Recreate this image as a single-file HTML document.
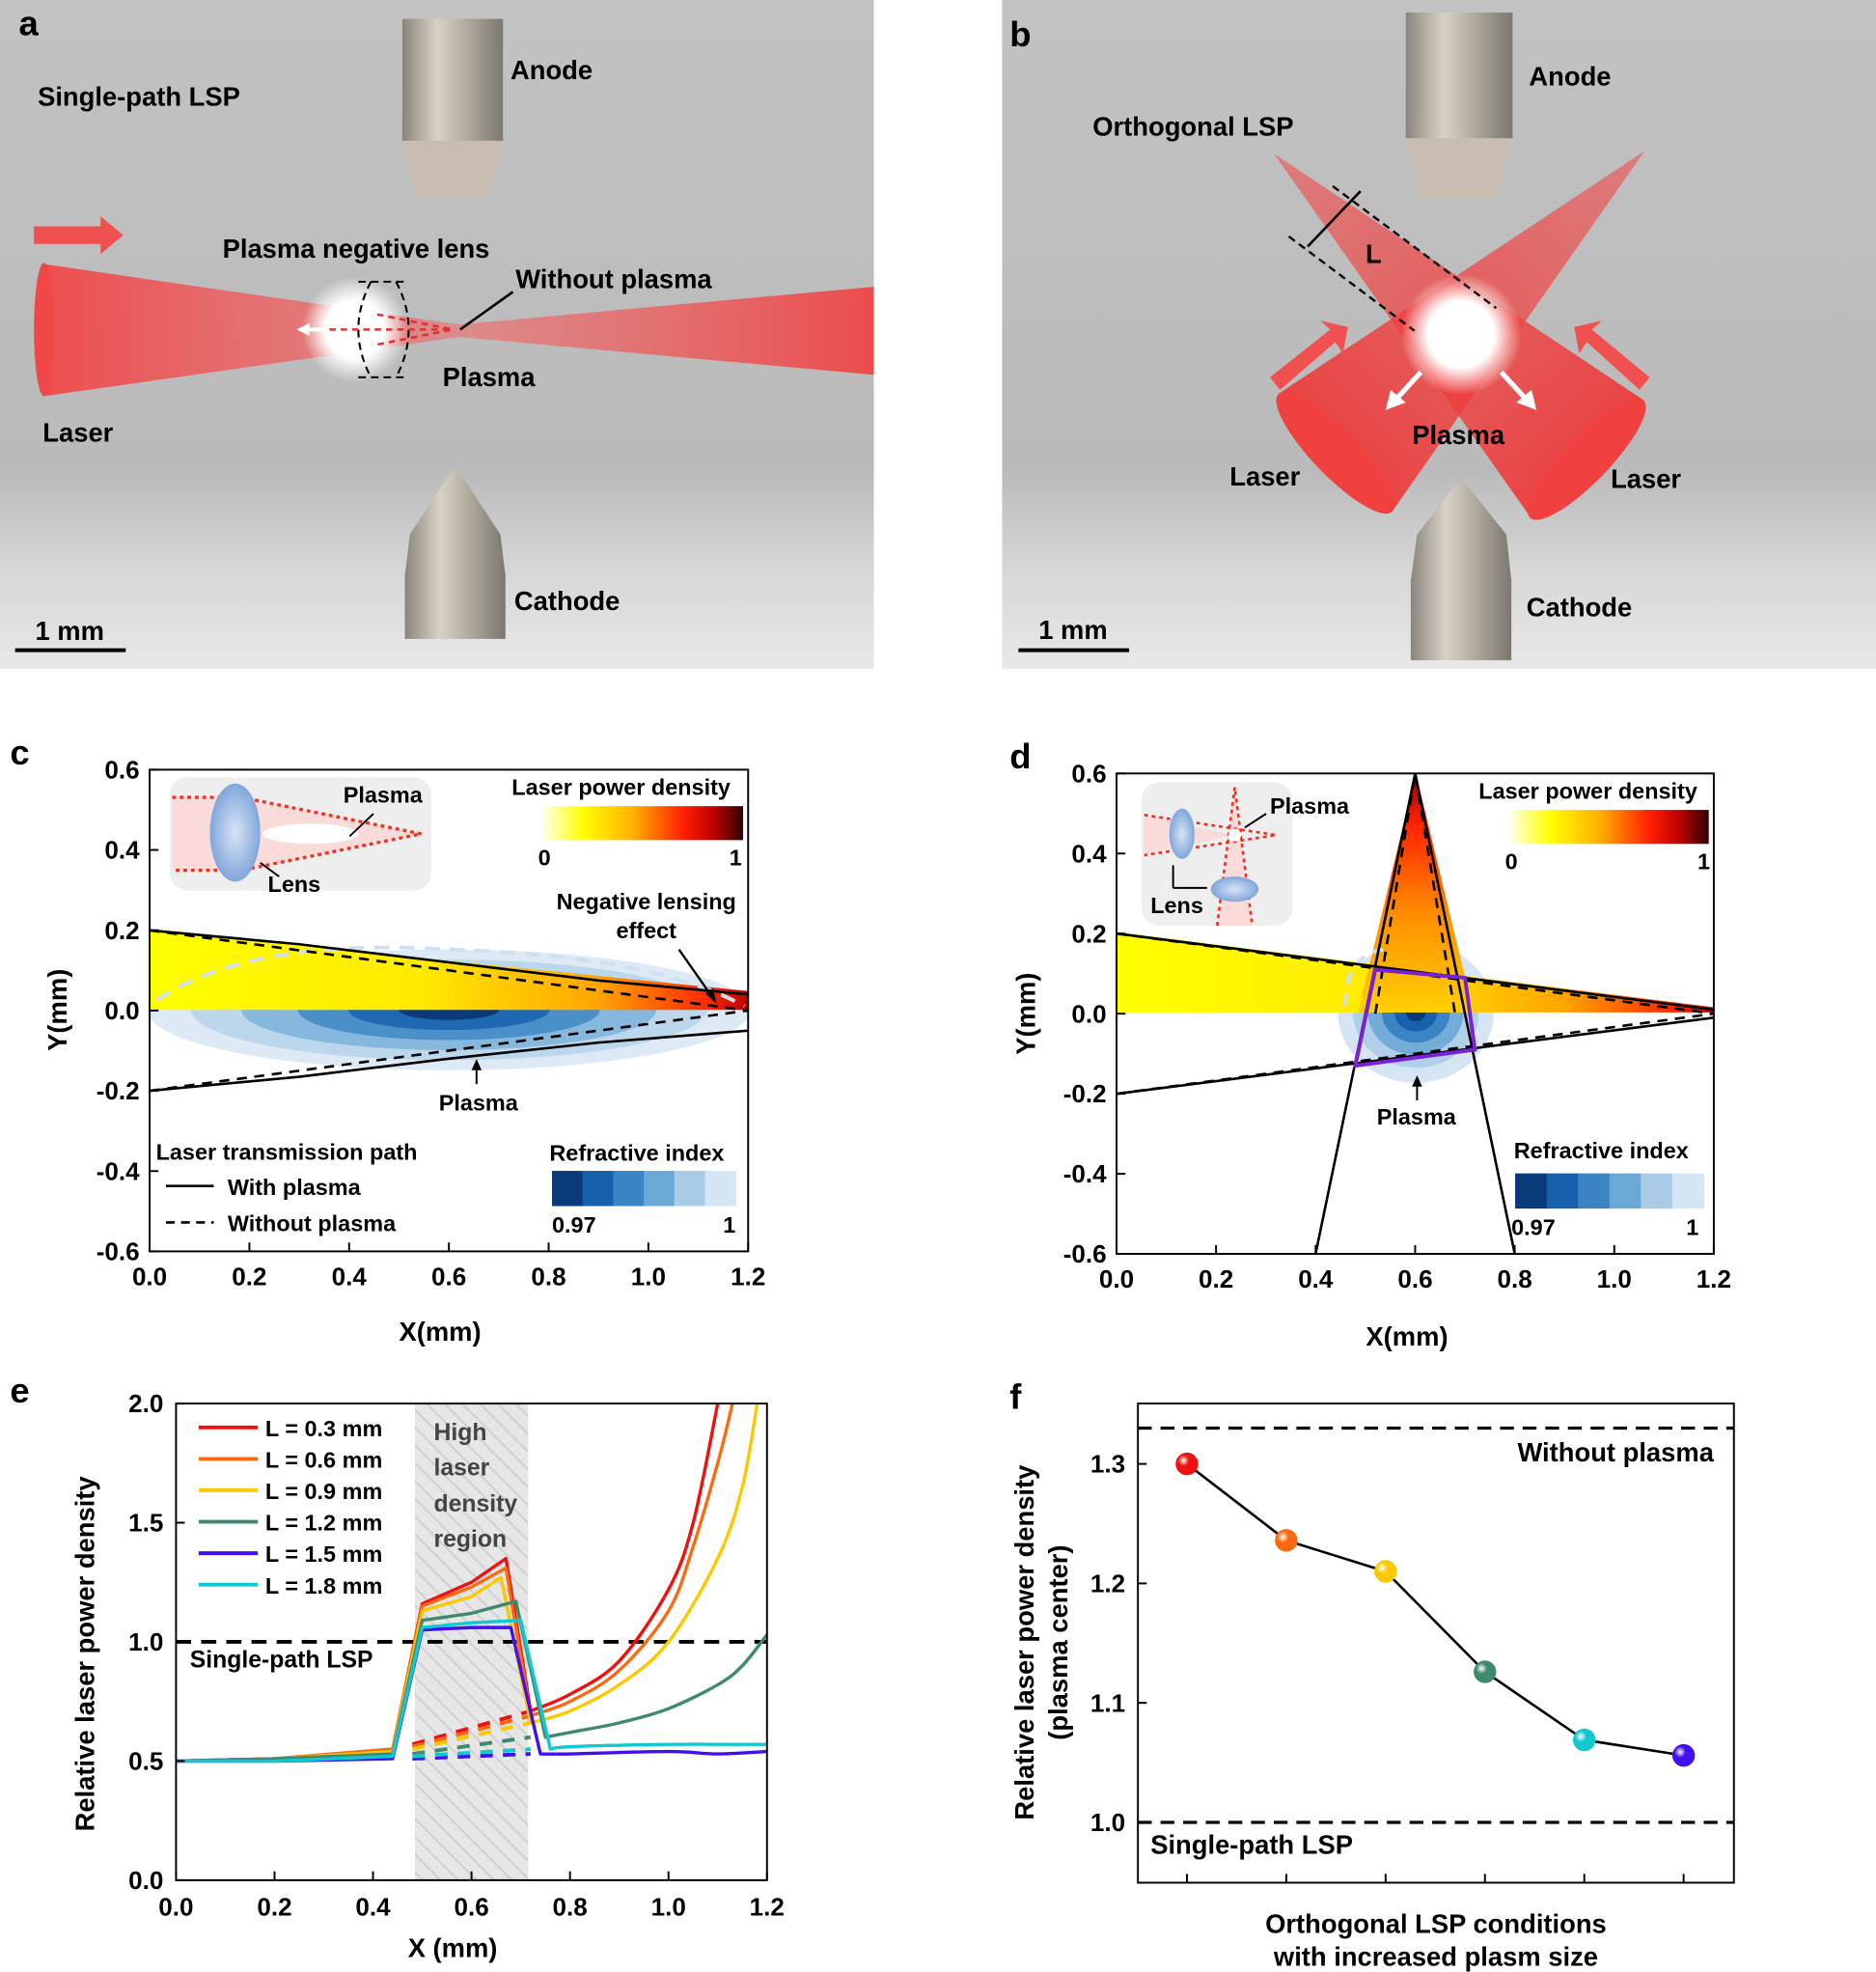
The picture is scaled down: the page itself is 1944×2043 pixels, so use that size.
<!DOCTYPE html>
<html><head><meta charset="utf-8"><style>
html,body{margin:0;padding:0;background:#fff}
svg{display:block}
text{font-family:"Liberation Sans",Arial,sans-serif;font-weight:bold;fill:#000}
</style></head><body>
<svg id="fig" width="1944" height="2043" viewBox="0 0 1492 1568" preserveAspectRatio="none" xmlns="http://www.w3.org/2000/svg">
<defs>
<linearGradient id="bg" x1="0" y1="0" x2="0" y2="1">
<stop offset="0" stop-color="#c2c2c2"/><stop offset="0.7" stop-color="#bababa"/><stop offset="0.85" stop-color="#d6d6d6"/><stop offset="1" stop-color="#e8e8e8"/></linearGradient>
<linearGradient id="metal" x1="0" y1="0" x2="1" y2="0">
<stop offset="0" stop-color="#8a857c"/><stop offset="0.35" stop-color="#d8d2c6"/><stop offset="0.6" stop-color="#b5afa4"/><stop offset="1" stop-color="#7c776f"/></linearGradient>
<linearGradient id="beamA" x1="0" y1="0" x2="1" y2="0">
<stop offset="0" stop-color="#f04848" stop-opacity="0.95"/><stop offset="0.5" stop-color="#f06a6a" stop-opacity="0.6"/><stop offset="1" stop-color="#f04040" stop-opacity="0.9"/></linearGradient>
<linearGradient id="beamB" x1="0" y1="0" x2="1" y2="1">
<stop offset="0" stop-color="#f05050" stop-opacity="0.6"/><stop offset="1" stop-color="#f03030" stop-opacity="0.95"/></linearGradient>
<linearGradient id="beamC" x1="1" y1="0" x2="0" y2="1">
<stop offset="0" stop-color="#f05050" stop-opacity="0.6"/><stop offset="1" stop-color="#f03030" stop-opacity="0.95"/></linearGradient>
<radialGradient id="glow"><stop offset="0.55" stop-color="#fff"/><stop offset="1" stop-color="#fff" stop-opacity="0"/></radialGradient>
<linearGradient id="heatC" x1="0" y1="0" x2="1" y2="0">
<stop offset="0" stop-color="#ffff00"/><stop offset="0.45" stop-color="#ffea00"/><stop offset="0.75" stop-color="#ffa500"/><stop offset="0.93" stop-color="#ff2a00"/><stop offset="1" stop-color="#c00000"/></linearGradient>
<linearGradient id="heatV" x1="0" y1="1" x2="0" y2="0">
<stop offset="0" stop-color="#ffd000"/><stop offset="0.4" stop-color="#ff9000"/><stop offset="0.8" stop-color="#ff2000"/><stop offset="1" stop-color="#900000"/></linearGradient>
<linearGradient id="cbar1" x1="0" y1="0" x2="1" y2="0">
<stop offset="0" stop-color="#ffffe8"/><stop offset="0.2" stop-color="#ffff00"/><stop offset="0.45" stop-color="#ffb000"/><stop offset="0.7" stop-color="#ff2000"/><stop offset="0.85" stop-color="#c00000"/><stop offset="1" stop-color="#300000"/></linearGradient>
<radialGradient id="lens" cx="0.5" cy="0.5" r="0.6"><stop offset="0" stop-color="#d8e4f5"/><stop offset="1" stop-color="#6f9ad6"/></radialGradient>
<pattern id="hatch" width="10" height="10" patternUnits="userSpaceOnUse" patternTransform="rotate(-45)">
<rect width="10" height="10" fill="#e6e6e6"/><line x1="0" y1="0" x2="0" y2="10" stroke="#d0d0d0" stroke-width="3"/></pattern>
<clipPath id="clipE"><rect x="140" y="1116" width="470" height="379"/></clipPath>
<clipPath id="clipC"><rect x="119" y="612" width="476" height="383"/></clipPath>
<clipPath id="clipD"><rect x="888" y="615" width="475" height="382"/></clipPath>
</defs>

<!-- PANEL A -->
<g>
<rect x="0" y="0" width="695" height="532" fill="url(#bg)"/>
<rect x="320" y="15" width="80" height="97" fill="url(#metal)"/>
<polygon points="320,112 400,112 388,156 332,156" fill="#c9bdb2"/>
<polygon points="326,425 362,370 398,425 402,458 322,458" fill="url(#metal)"/>
<rect x="322" y="456" width="80" height="52" fill="url(#metal)"/>
<polygon points="35,210 365,258 695,228 695,298 365,268 35,315" fill="url(#beamA)"/>
<ellipse cx="35" cy="262" rx="8" ry="53" fill="#f04848"/>
<circle cx="282" cy="262" r="42" fill="url(#glow)"/>
<polygon points="27,180 80,180 80,172 98,187 80,202 80,194 27,194" fill="#f05050"/>
<path d="M285,224 h40 M285,300 h40 M295,224 q-20,38 0,76 M315,224 q20,38 0,76" stroke="#000" stroke-width="1.6" stroke-dasharray="6,4" fill="none"/>
<path d="M262,262 L360,262 M300,250 L360,262 L300,274" stroke="#e03030" stroke-width="2" stroke-dasharray="5,4" fill="none"/>
<line x1="408" y1="232" x2="366" y2="262" stroke="#000" stroke-width="2"/>
<line x1="262" y1="262" x2="238" y2="262" stroke="#fff" stroke-width="3"/><polygon points="236,262 246,257 246,267" fill="#fff"/>
<text x="15" y="28" font-size="28">a</text>
<text x="30" y="84" font-size="21">Single-path LSP</text>
<text x="406" y="63" font-size="21">Anode</text>
<text x="177" y="205" font-size="21">Plasma negative lens</text>
<text x="410" y="229" font-size="21">Without plasma</text>
<text x="352" y="307" font-size="21">Plasma</text>
<text x="34" y="351" font-size="21">Laser</text>
<text x="409" y="485" font-size="21">Cathode</text>
<line x1="12" y1="517" x2="100" y2="517" stroke="#000" stroke-width="3"/>
<text x="28" y="509" font-size="21">1 mm</text>
</g>

<!-- PANEL B -->
<g>
<rect x="797" y="0" width="695" height="532" fill="url(#bg)"/>
<rect x="1118" y="10" width="85" height="100" fill="url(#metal)"/>
<polygon points="1118,110 1203,110 1190,157 1131,157" fill="#c9bdb2"/>
<polygon points="1013,122 1307,318 1217,411" fill="url(#beamB)"/>
<polygon points="1308,120 1107,407 1017,313" fill="url(#beamC)"/>
<ellipse cx="1262" cy="365" rx="18" ry="65" transform="rotate(44 1262 365)" fill="#f04040"/>
<ellipse cx="1062" cy="360" rx="18" ry="65" transform="rotate(-44 1062 360)" fill="#f04040"/>
<polygon points="1127,425 1162,380 1198,425 1202,462 1122,462" fill="url(#metal)"/>
<rect x="1122" y="460" width="80" height="65" fill="url(#metal)"/>
<circle cx="1162" cy="266" r="48" fill="url(#glow)"/>
<path d="M1060,148 L1190,245 M1025,188 L1125,263" stroke="#000" stroke-width="1.8" stroke-dasharray="6,4" fill="none"/>
<line x1="1082" y1="152" x2="1040" y2="196" stroke="#000" stroke-width="2"/>
<polygon points="1010,300 1058,262 1050,255 1072,260 1068,281 1062,272 1018,310" fill="#f05050"/>
<polygon points="1312,300 1266,262 1274,255 1252,260 1256,281 1262,272 1304,310" fill="#f05050"/>
<path d="M1130,296 L1108,320 M1194,296 L1216,320" stroke="#fff" stroke-width="4"/>
<polygon points="1102,326 1106,310 1118,320" fill="#fff"/><polygon points="1222,326 1218,310 1206,320" fill="#fff"/>
<text x="803" y="37" font-size="28">b</text>
<text x="869" y="108" font-size="21">Orthogonal LSP</text>
<text x="1216" y="68" font-size="21">Anode</text>
<text x="1086" y="209" font-size="21">L</text>
<text x="1123" y="353" font-size="21">Plasma</text>
<text x="978" y="386" font-size="21">Laser</text>
<text x="1281" y="388" font-size="21">Laser</text>
<text x="1214" y="490" font-size="21">Cathode</text>
<line x1="810" y1="517" x2="898" y2="517" stroke="#000" stroke-width="3"/>
<text x="826" y="508" font-size="21">1 mm</text>
</g>

<!-- PANEL C -->
<g>
<text x="8" y="608" font-size="28">c</text>
<g clip-path="url(#clipC)">
<ellipse cx="357" cy="803" rx="240" ry="48" fill="#dde9f5"/>
<ellipse cx="357" cy="803" rx="205" ry="40" fill="#bcd6ec"/>
<ellipse cx="357" cy="803" rx="165" ry="32" fill="#86b7dd"/>
<ellipse cx="357" cy="803" rx="120" ry="24" fill="#4b8fc9"/>
<ellipse cx="357" cy="803" rx="80" ry="16" fill="#1f69b2"/>
<ellipse cx="357" cy="803" rx="40" ry="8" fill="#0b3a78"/>
<polygon id="cWedge" points="119,740 595,788 595,803 119,803" fill="url(#heatC)"/>
<path d="M125,795 Q200,745 357,755 Q520,760 592,800" stroke="#cfe0f0" stroke-width="3" stroke-dasharray="12,8" fill="none"/>
<g id="cLines"></g>
</g>
<rect x="119" y="612" width="476" height="383" fill="none" stroke="#000" stroke-width="1.5"/>
<g id="cTicks"></g>
<rect x="135" y="618" width="208" height="90" rx="14" fill="#eeeeee"/>
<polygon points="137,634 192,634 335,663 192,692 137,692" fill="#fbdada"/>
<ellipse cx="247" cy="663" rx="38" ry="8" fill="#fff"/>
<path d="M137,634 H192 L335,663 L192,692 H137" stroke="#f03020" stroke-width="2.5" stroke-dasharray="3,3" fill="none"/>
<ellipse cx="187" cy="662" rx="20" ry="39" fill="url(#lens)"/>
<line x1="297" y1="647" x2="278" y2="665" stroke="#000" stroke-width="1.5"/>
<line x1="222" y1="697" x2="207" y2="686" stroke="#000" stroke-width="1.5"/>
<text x="273" y="638" font-size="18">Plasma</text>
<text x="213" y="709" font-size="18">Lens</text>
<text x="407" y="632" font-size="18">Laser power density</text>
<rect x="432" y="641" width="159" height="27" fill="url(#cbar1)"/>
<text x="428" y="688" font-size="18">0</text><text x="580" y="688" font-size="18">1</text>
<text x="514" y="723" font-size="18" text-anchor="middle">Negative lensing</text>
<text x="514" y="746" font-size="18" text-anchor="middle">effect</text>
<line x1="540" y1="755" x2="568" y2="795" stroke="#000" stroke-width="1.8"/>
<polygon points="570,798 561,790 567,786" fill="#000"/>
<line x1="379" y1="862" x2="379" y2="845" stroke="#000" stroke-width="1.5"/><polygon points="379,842 375,851 383,851" fill="#000"/>
<text x="349" y="883" font-size="18">Plasma</text>
<text x="124" y="922" font-size="18">Laser transmission path</text>
<line x1="132" y1="943" x2="170" y2="943" stroke="#000" stroke-width="2"/>
<text x="181" y="950" font-size="18">With plasma</text>
<line x1="132" y1="972" x2="170" y2="972" stroke="#000" stroke-width="2" stroke-dasharray="7,5"/>
<text x="181" y="979" font-size="18">Without plasma</text>
<text x="437" y="923" font-size="18">Refractive index</text>
<g id="cBar2"></g>
<text x="439" y="980" font-size="18">0.97</text><text x="575" y="980" font-size="18">1</text>
<text x="350" y="1066" font-size="21" text-anchor="middle">X(mm)</text>
<text transform="translate(53,803) rotate(-90)" font-size="21" text-anchor="middle">Y(mm)</text>
</g>

<!-- PANEL D -->
<g>
<text x="803" y="611" font-size="28">d</text>
<g clip-path="url(#clipD)">
<ellipse cx="1126" cy="805" rx="62" ry="56" fill="#d6e5f4"/>
<ellipse cx="1126" cy="805" rx="50" ry="44" fill="#b0cfe8"/>
<ellipse cx="1126" cy="805" rx="38" ry="34" fill="#74acd8"/>
<ellipse cx="1126" cy="805" rx="27" ry="24" fill="#3b83c3"/>
<ellipse cx="1126" cy="805" rx="17" ry="15" fill="#1660ac"/>
<ellipse cx="1126" cy="805" rx="8" ry="7" fill="#0b3a78"/>
<polygon points="888,741 1363,801 1363,805 888,805" fill="url(#heatC)"/>
<polygon points="1126,615 1172,805 1080,805" fill="url(#heatV)"/>
<path d="M1070,800 Q1070,760 1100,755" stroke="#cfe0f0" stroke-width="3" stroke-dasharray="10,7" fill="none"/>
<g id="dLines"></g>
</g>
<rect x="888" y="615" width="475" height="382" fill="none" stroke="#000" stroke-width="1.5"/>
<g id="dTicks"></g>
<rect x="908" y="622" width="120" height="114" rx="14" fill="#eeeeee"/>
<polygon points="910,648 980,664 910,680" fill="#fbdada"/><polygon points="968,736 982,626 996,736" fill="#fbdada"/>
<path d="M910,648 L1015,664 L910,680 M968,736 L982,626 L996,736" stroke="#f03020" stroke-width="2" stroke-dasharray="3,3" fill="none"/>
<circle cx="982" cy="664" r="5" fill="#fff"/>
<ellipse cx="940" cy="663" rx="10" ry="20" fill="url(#lens)"/>
<ellipse cx="982" cy="707" rx="19" ry="10" fill="url(#lens)"/>
<path d="M933,706 V688 M933,706 H960" stroke="#000" stroke-width="1.5"/>
<line x1="1007" y1="647" x2="990" y2="658" stroke="#000" stroke-width="1.5"/>
<text x="1010" y="647" font-size="18">Plasma</text>
<text x="915" y="726" font-size="18">Lens</text>
<text x="1176" y="635" font-size="18">Laser power density</text>
<rect x="1201" y="644" width="158" height="27" fill="url(#cbar1)"/>
<text x="1197" y="691" font-size="18">0</text><text x="1350" y="691" font-size="18">1</text>
<line x1="1127" y1="875" x2="1127" y2="858" stroke="#000" stroke-width="1.5"/><polygon points="1127,855 1123,864 1131,864" fill="#000"/>
<text x="1095" y="894" font-size="18">Plasma</text>
<text x="1204" y="921" font-size="18">Refractive index</text>
<g id="dBar2"></g>
<text x="1202" y="982" font-size="18">0.97</text><text x="1341" y="982" font-size="18">1</text>
<text x="1119" y="1070" font-size="21" text-anchor="middle">X(mm)</text>
<text transform="translate(823,806) rotate(-90)" font-size="21" text-anchor="middle">Y(mm)</text>
</g>

<!-- PANEL E -->
<g>
<text x="8" y="1115" font-size="28">e</text>
<g id="eShade"></g>
<g id="eLines" clip-path="url(#clipE)"></g>
<rect x="140" y="1116" width="470" height="379" fill="none" stroke="#000" stroke-width="1.5"/>
<g id="eTicks"></g>
<g id="eLegend"></g>
<text x="345" y="1145" font-size="19" style="fill:#444">High</text>
<text x="345" y="1173" font-size="19" style="fill:#444">laser</text>
<text x="345" y="1202" font-size="19" style="fill:#444">density</text>
<text x="345" y="1230" font-size="19" style="fill:#444">region</text>
<text x="151" y="1326" font-size="19">Single-path LSP</text>
<text x="360" y="1556" font-size="21" text-anchor="middle">X (mm)</text>
<text transform="translate(75,1315) rotate(-90)" font-size="21" text-anchor="middle">Relative laser power density</text>
</g>

<!-- PANEL F -->
<g>
<text x="803" y="1120" font-size="28">f</text>
<rect x="905" y="1116" width="474" height="381" fill="none" stroke="#000" stroke-width="1.5"/>
<g id="fChart"></g>
<text x="1363" y="1162" font-size="21" text-anchor="end">Without plasma</text>
<text x="915" y="1474" font-size="21">Single-path LSP</text>
<text x="1142" y="1537" font-size="21" text-anchor="middle">Orthogonal LSP conditions</text>
<text x="1142" y="1563" font-size="21" text-anchor="middle">with increased plasm size</text>
<text transform="translate(822,1306) rotate(-90)" font-size="21" text-anchor="middle">Relative laser power density</text>
<text transform="translate(849,1306) rotate(-90)" font-size="21" text-anchor="middle">(plasma center)</text>
</g>
</svg>
<script>
const NS='http://www.w3.org/2000/svg';
// ---- panel e data ----
const eXTicks=[0,0.2,0.4,0.6,0.8,1.0,1.2];
const eYTicks=[0,0.5,1.0,1.5,2.0];
const eNames=['L = 0.3 mm','L = 0.6 mm','L = 0.9 mm','L = 1.2 mm','L = 1.5 mm','L = 1.8 mm'];
const eColors=['#f01010','#fb6a10','#fcc800','#3f8a6c','#4010f0','#10c8d0'];
const eX03=[0,0.2,0.44,0.5,0.6,0.67,0.72,0.8,0.9,1.0,1.05,1.1];
const eY03=[0.5,0.51,0.55,1.16,1.25,1.35,0.71,0.78,0.92,1.22,1.5,2.0];
const eX06=[0,0.2,0.44,0.5,0.6,0.67,0.72,0.8,0.9,1.0,1.05,1.1,1.13];
const eY06=[0.5,0.51,0.55,1.15,1.23,1.31,0.69,0.75,0.88,1.13,1.4,1.75,2.0];
const eX09=[0,0.2,0.44,0.5,0.6,0.66,0.72,0.8,0.9,1.0,1.1,1.15,1.18];
const eY09=[0.5,0.51,0.54,1.13,1.19,1.27,0.66,0.71,0.82,1.0,1.35,1.65,2.0];
const eX12=[0,0.2,0.44,0.5,0.6,0.69,0.75,0.8,0.9,1.0,1.1,1.15,1.2];
const eY12=[0.5,0.51,0.53,1.09,1.12,1.17,0.6,0.62,0.66,0.72,0.82,0.9,1.03];
const eX15=[0,0.2,0.44,0.5,0.6,0.68,0.74,0.8,1.0,1.1,1.2];
const eY15=[0.5,0.5,0.51,1.05,1.06,1.06,0.53,0.53,0.54,0.53,0.54];
const eX18=[0,0.2,0.44,0.5,0.6,0.7,0.76,0.8,1.0,1.1,1.2];
const eY18=[0.5,0.5,0.52,1.06,1.08,1.09,0.55,0.56,0.57,0.57,0.57];
const eDashX=[0.48,0.72];
const eDashY0=[0.57,0.71];const eDashY1=[0.56,0.69];const eDashY2=[0.55,0.66];
const eDashY3=[0.53,0.6];const eDashY4=[0.51,0.53];const eDashY5=[0.52,0.55];
const eShadeRange=[0.485,0.715];
const eSingle=1.0;
// ---- panel f data ----
const fValues=[1.30,1.236,1.21,1.126,1.069,1.056];
const fColors=['#f01010','#fb6a10','#fcc800','#3f8a6c','#10c8d0','#4010f0'];
const fYTicks=[1.0,1.1,1.2,1.3];
const fWithout=1.33, fSingle=1.0;
// ---- panel c/d data ----
const cdXTicks=[0,0.2,0.4,0.6,0.8,1.0,1.2];
const cdYTicks=[0.6,0.4,0.2,0.0,-0.2,-0.4,-0.6];
const cWithX=[0,0.3,0.6,0.9,1.2], cWithUp=[0.2,0.165,0.12,0.075,0.04], cWithDn=[-0.2,-0.165,-0.12,-0.08,-0.05];
const cNoX=[0,1.2], cNoUp=[0.2,0], cNoDn=[-0.2,0];
const dWithX=[0,1.2], dWithUp=[0.2,0.01], dWithDn=[-0.2,-0.01];
const dConeX=[0.4,0.6,0.8], dConeY=[-0.6,0.6,-0.6];
const dQuadX=[0.52,0.7,0.72,0.48], dQuadY=[0.11,0.09,-0.09,-0.13];
const refShades=['#0b3a78','#1660ac','#3b83c3','#6aa8d6','#a9cbe6','#d6e5f4'];

function el(tag,attrs,parent){const e=document.createElementNS(NS,tag);for(const k in attrs)e.setAttribute(k,attrs[k]);parent.appendChild(e);return e;}
function txt(s,attrs,parent){const e=el('text',attrs,parent);e.textContent=s;return e;}
function poly(xs,ys,fx,fy){return xs.map((x,i)=>fx(x).toFixed(1)+','+fy(ys[i]).toFixed(1)).join(' ');}
function smoothPath(pts){ // catmull-rom
  let d='M'+pts[0][0].toFixed(1)+','+pts[0][1].toFixed(1);
  for(let i=0;i<pts.length-1;i++){const p0=pts[Math.max(0,i-1)],p1=pts[i],p2=pts[i+1],p3=pts[Math.min(pts.length-1,i+2)];
    const c1=[p1[0]+(p2[0]-p0[0])/6,p1[1]+(p2[1]-p0[1])/6],c2=[p2[0]-(p3[0]-p1[0])/6,p2[1]-(p3[1]-p1[1])/6];
    d+=' C'+c1.map(v=>v.toFixed(1)).join(',')+' '+c2.map(v=>v.toFixed(1)).join(',')+' '+p2[0].toFixed(1)+','+p2[1].toFixed(1);}
  return d;}

// ---- E ----
const ex=v=>140+v/1.2*470, ey=v=>1495-v*189.5;
const gS=document.getElementById('eShade');
const sh=el('rect',{x:ex(eShadeRange[0]),y:1116,width:ex(eShadeRange[1])-ex(eShadeRange[0]),height:379,fill:'url(#hatch)'},gS);


const gE=document.getElementById('eLines');
const sl=el('line',{x1:140,x2:610,y1:ey(eSingle),y2:ey(eSingle),stroke:'#000','stroke-width':3,'stroke-dasharray':'12,8'},gE);


const eXs=[eX03,eX06,eX09,eX12,eX15,eX18], eYs=[eY03,eY06,eY09,eY12,eY15,eY18];
const eDs=[eDashY0,eDashY1,eDashY2,eDashY3,eDashY4,eDashY5];
eDs.forEach((d,i)=>{const p=el('polyline',{points:poly(eDashX,d,ex,ey),fill:'none',stroke:eColors[i],'stroke-width':3,'stroke-dasharray':'10,8'},gE);

});
eXs.forEach((xs,i)=>{const ys=eYs[i];
const pts=xs.map((x,k)=>[ex(x),ey(ys[k])]);
const head=pts.slice(0,7), tail=pts.slice(6);
const d='M'+head.map(p=>p[0].toFixed(1)+','+p[1].toFixed(1)).join(' L')+' '+smoothPath(tail).replace(/^M[^ ]+/,'');
const p=el('path',{d:d,fill:'none',stroke:eColors[i],'stroke-width':2.6,'stroke-linejoin':'round'},gE);

});
const gET=document.getElementById('eTicks');
eXTicks.forEach(v=>{el('line',{x1:ex(v),x2:ex(v),y1:1495,y2:1488,stroke:'#000','stroke-width':1.5},gET);
const t=txt(v.toFixed(1),{x:ex(v),y:1523,'font-size':20,'text-anchor':'middle'},gET);

});
eYTicks.forEach(v=>{el('line',{x1:140,x2:147,y1:ey(v),y2:ey(v),stroke:'#000','stroke-width':1.5},gET);
const t=txt(v.toFixed(1),{x:130,y:ey(v)+7,'font-size':20,'text-anchor':'end'},gET);

});
const gL=document.getElementById('eLegend');
eNames.forEach((n,i)=>{const y=1135+i*25;
const ln=el('line',{x1:158,x2:205,y1:y,y2:y,stroke:eColors[i],'stroke-width':3},gL);


const t=txt(n,{x:211,y:y+7,'font-size':18},gL);

});

// ---- F ----
const fx=i=>944+i*79, fy=v=>1164-(v-1.3)*950;
const gF=document.getElementById('fChart');
[fWithout,fSingle].forEach((v,k)=>{const l=el('line',{x1:905,x2:1379,y1:fy(v),y2:fy(v),stroke:'#000','stroke-width':2.5,'stroke-dasharray':'11,7'},gF);

});
fYTicks.forEach(v=>{el('line',{x1:905,x2:912,y1:fy(v),y2:fy(v),stroke:'#000','stroke-width':1.5},gF);
const t=txt(v.toFixed(1),{x:895,y:fy(v)+7,'font-size':20,'text-anchor':'end'},gF);

});
fValues.forEach((v,i)=>{el('line',{x1:fx(i),x2:fx(i),y1:1497,y2:1490,stroke:'#000','stroke-width':1.5},gF);});
const fl=el('polyline',{points:fValues.map((v,i)=>fx(i)+','+fy(v)).join(' '),fill:'none',stroke:'#000','stroke-width':2},gF);


const defs=document.querySelector('defs');
fValues.forEach((v,i)=>{const g=el('radialGradient',{id:'ball'+i,cx:'0.35',cy:'0.35',r:'0.7'},defs);
el('stop',{offset:'0','stop-color':'#fff'},g);el('stop',{offset:'0.35','stop-color':fColors[i]},g);el('stop',{offset:'1','stop-color':fColors[i]},g);
const c=el('circle',{cx:fx(i),cy:fy(v),r:9,fill:'url(#ball'+i+')'},gF);

});

// ---- C / D ----
function axesCD(gid,x0,y0,w,h){const g=document.getElementById(gid);
const X=v=>x0+v/1.2*w, Y=v=>y0+h/2-v/0.6*(h/2);
cdXTicks.forEach(v=>{el('line',{x1:X(v),x2:X(v),y1:y0+h,y2:y0+h-7,stroke:'#000','stroke-width':1.5},g);
const t=txt(v.toFixed(1),{x:X(v),y:y0+h+27,'font-size':20,'text-anchor':'middle'},g);

});
cdYTicks.forEach(v=>{el('line',{x1:x0,x2:x0+7,y1:Y(v),y2:Y(v),stroke:'#000','stroke-width':1.5},g);
const t=txt(v.toFixed(1),{x:x0-8,y:Y(v)+7,'font-size':20,'text-anchor':'end'},g);

});
return [X,Y];}
const [cx_,cy_]=axesCD('cTicks',119,612,476,383);
const [dx_,dy_]=axesCD('dTicks',888,615,475,382);
const gC=document.getElementById('cLines');
[[cWithX,cWithUp,''],[cWithX,cWithDn,''],[cNoX,cNoUp,'8,6'],[cNoX,cNoDn,'8,6']].forEach(a=>{
const p=el('polyline',{points:poly(a[0],a[1],cx_,cy_),fill:'none',stroke:'#000','stroke-width':2,'stroke-dasharray':a[2]||'none'},gC);

});
const gD=document.getElementById('dLines');
[[dWithX,dWithUp,''],[dWithX,dWithDn,''],[cNoX,cNoUp,'8,6'],[cNoX,cNoDn,'8,6'],[dConeX,dConeY,'']].forEach(a=>{
const p=el('polyline',{points:poly(a[0],a[1],dx_,dy_),fill:'none',stroke:'#000','stroke-width':2,'stroke-dasharray':a[2]||'none'},gD);

});
const cone2=el('polyline',{points:poly([0.52,0.6,0.68],[0,0.6,0],dx_,dy_),fill:'none',stroke:'#000','stroke-width':2,'stroke-dasharray':'8,6'},gD);


const q=el('polygon',{points:poly(dQuadX,dQuadY,dx_,dy_),fill:'none',stroke:'#7a20d8','stroke-width':3},gD);


function refBar(gid,x,y,w,h){const g=document.getElementById(gid);refShades.forEach((c,i)=>el('rect',{x:x+i*w/6,y:y,width:w/6+0.5,height:h,fill:c},g));}
refBar('cBar2',439,931,146,28);refBar('dBar2',1205,933,150,28);
</script>
</body></html>
